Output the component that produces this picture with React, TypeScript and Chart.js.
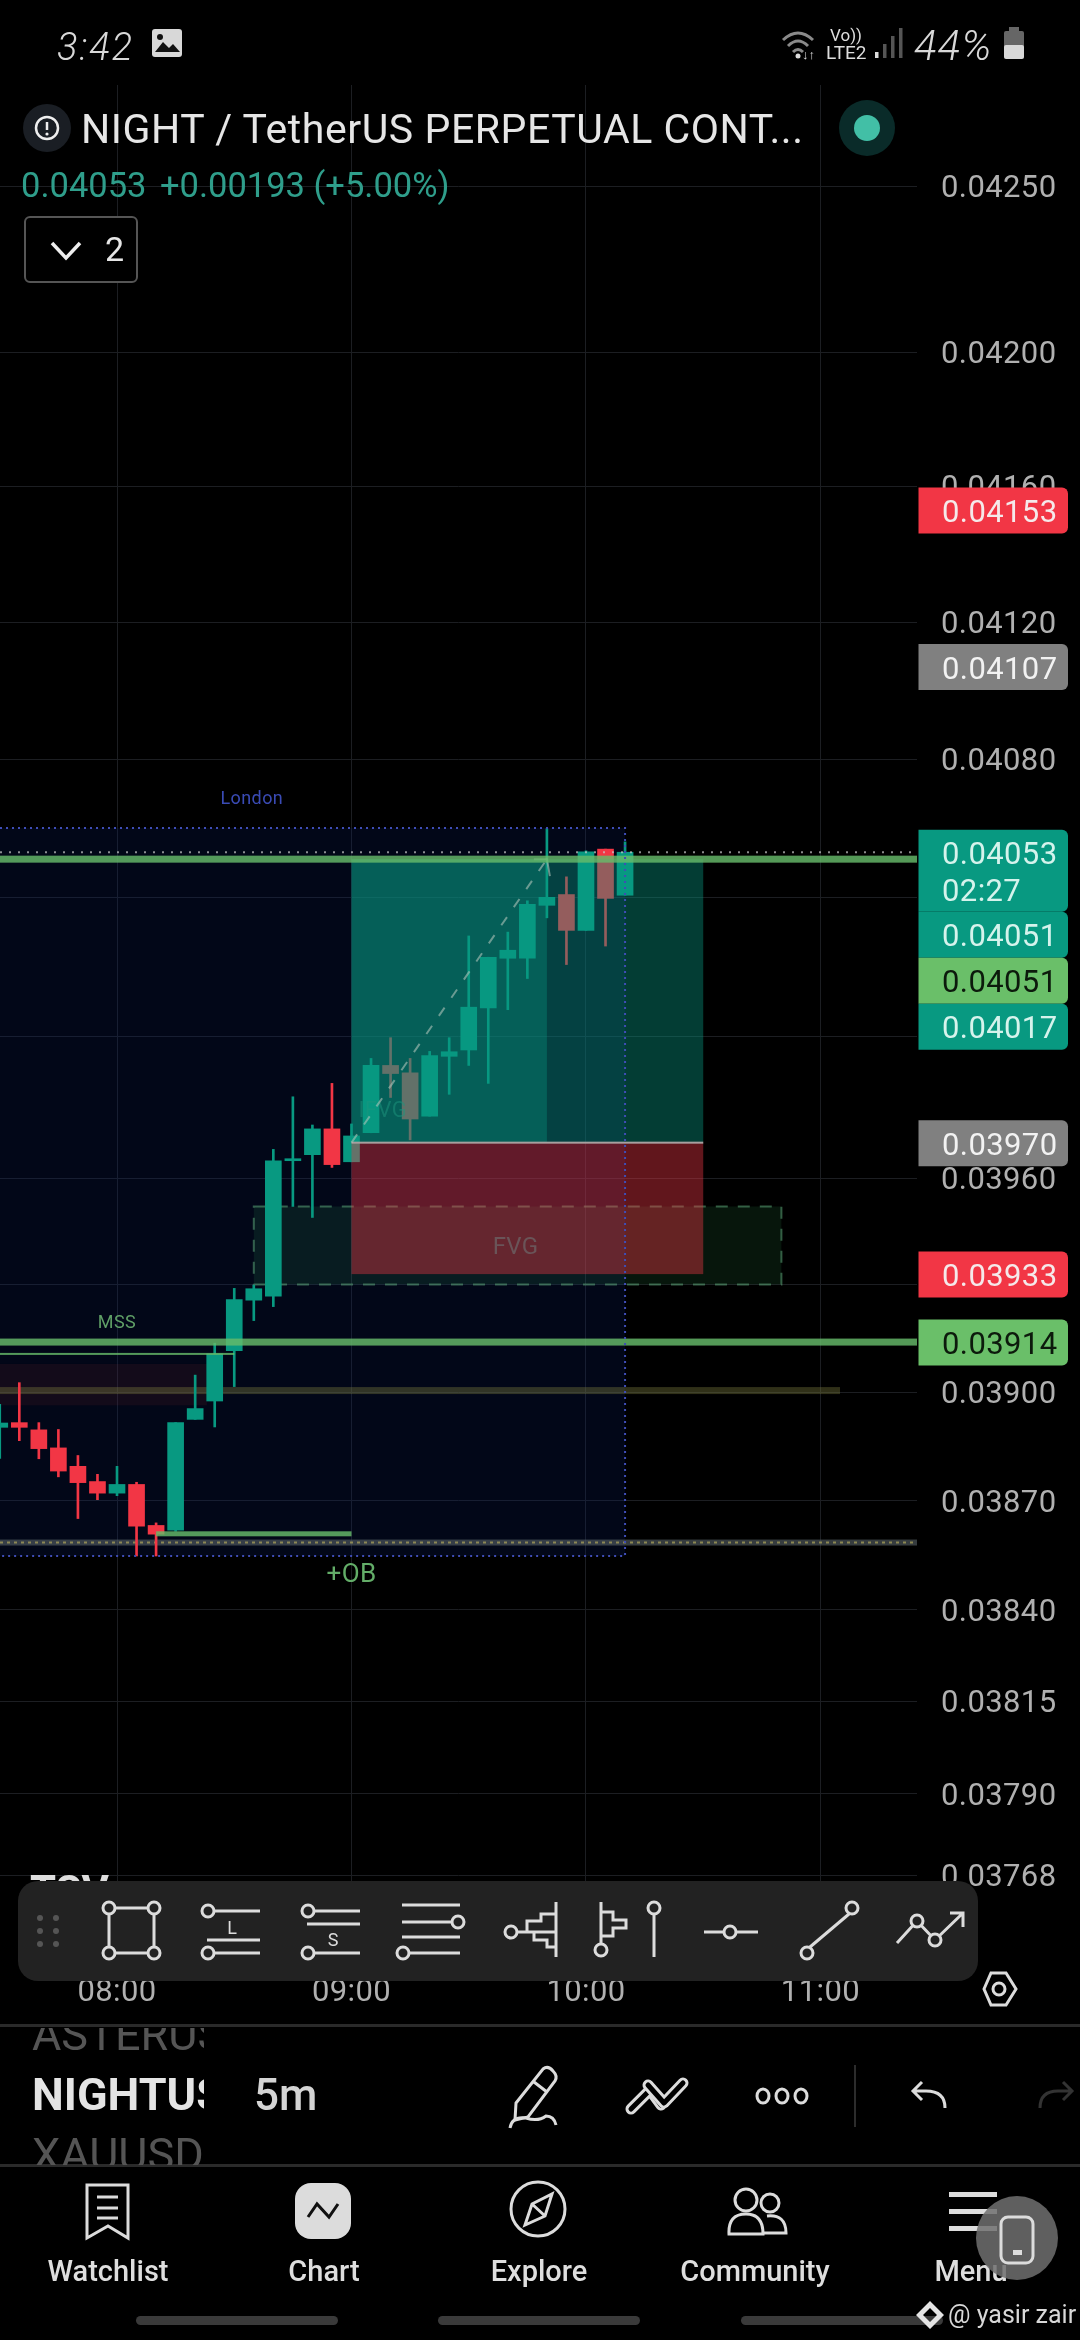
import React, { useEffect, useRef } from "react";
import { Chart, registerables } from "chart.js";

Chart.register(...registerables);

// ---- Candles (minutes since midnight, 5m bars) ----
const times = [450,455,460,465,470,475,480,485,490,495,500,505,510,515,520,525,530,535,540,545,550,555,560,565,570,575,580,585,590,595,600,605,610];
const opens = [0.038903,0.038916,0.038896,0.038846,0.038795,0.038753,0.038721,0.038745,0.038632,0.038619,0.038925,0.038976,0.039116,0.039257,0.039268,0.039649,0.039666,0.039739,0.039646,0.039728,0.039919,0.039898,0.039775,0.039945,0.039963,0.040083,0.040225,0.040225,0.040377,0.040408,0.040305,0.040539,0.040406];
const closes = [0.038915,0.038903,0.038844,0.038782,0.038750,0.038721,0.038745,0.038630,0.038608,0.038916,0.038955,0.039107,0.039259,0.039289,0.039649,0.039652,0.039739,0.039638,0.039719,0.039919,0.039896,0.039767,0.039947,0.039958,0.040085,0.040228,0.040248,0.040380,0.040400,0.040305,0.040531,0.040397,0.040530];
const highs = [0.038967,0.039027,0.038916,0.038897,0.038825,0.038773,0.038795,0.038751,0.038639,0.038916,0.039048,0.039137,0.039290,0.039299,0.039681,0.039830,0.039750,0.039868,0.039753,0.039939,0.039998,0.039939,0.039959,0.039998,0.040289,0.040228,0.040300,0.040390,0.040598,0.040459,0.040534,0.040539,0.040560];
const lows = [0.038817,0.038866,0.038816,0.038766,0.038651,0.038703,0.038714,0.038548,0.038548,0.038616,0.038925,0.038904,0.039016,0.039200,0.039239,0.039520,0.039489,0.039630,0.039646,0.039728,0.039828,0.039708,0.039775,0.039837,0.039919,0.039868,0.040078,0.040167,0.040341,0.040207,0.040305,0.040260,0.040406];

// ---- Axes ----
const yTicks = [0.0425,0.042,0.0416,0.0412,0.0408,0.0404,0.04,0.0396,0.0393,0.039,0.0387,0.0384,0.03815,0.0379,0.03768];
const xTicks = [480,540,600,660];
const xRange = [450.06,684.7];
const yRange = [0.037441,0.042807];

// ---- Drawn objects on the chart ----
const sessionBox = { from: 450, to: 610, top: 0.0406, bottom: 0.038548 };
const entry = 0.0397, target = 0.04051, stop = 0.03933;
const positionTimes = [540, 590, 630];
const fvg = { from: 515, to: 650, top: 0.03952, bottom: 0.039301 };
const redBand = { from: 450, to: 503, top: 0.039079, bottom: 0.038964 };
const oliveLevel = 0.039005, oliveEnd = 665;
const mssLevel = 0.03914, mssThin = 0.039107, mssThinEnd = 510;
const obLevel = 0.038609, obFrom = 490, obTo = 540;
const lowLevel = 0.038585;
const lastPrice = 0.04053;
const annotations: [string, number, number, string, string][] = [
  ["London", 514.5, 0.04069, "#3a4bb5", "18px Roboto"],
  ["MSS", 480, 0.039198, "#5f9f66", "18px Roboto"],
  ["+OB", 540, 0.038502, "#63ad68", "26px Roboto"],
  ["FVG", 582, 0.039411, "#6a5458", "24px Roboto"],
];

// ---- Price tags on the right axis ----
const tagValues = [0.04153,0.04107,0.04053,0.04051,0.04051,0.04017,0.0397,0.03933,0.03914];
const tagColors = ["#f23645","#808080","#089981","#089981","#6abf69","#089981","#808080","#f23645","#6abf69"];
const tagInk = ["#f5e9ea","#f2f2f2","#d5f3ec","#d5f3ec","#0c1a0c","#d5f3ec","#f2f2f2","#f5e9ea","#0c1a0c"];
const tagExtra = ["","","02:27","","","","","",""];

const GREEN = "#089981", RED = "#f23645";
const isUp = times.map((_, i) => closes[i] >= opens[i]);

const overlayPlugin = {
  id: "overlay",
  beforeDraw(chart: any) {
    chart.ctx.letterSpacing = "0.4px";
  },
  beforeDatasetsDraw(chart: any) {
    const { ctx, chartArea: a, scales: { x, y } } = chart;
    ctx.save();
    ctx.beginPath(); ctx.rect(a.left, a.top, a.right - a.left, a.bottom - a.top); ctx.clip();
    const rect = (f: number, t: number, hi: number, lo: number, c: string) => {
      ctx.fillStyle = c;
      ctx.fillRect(x.getPixelForValue(f), y.getPixelForValue(hi), x.getPixelForValue(t) - x.getPixelForValue(f), y.getPixelForValue(lo) - y.getPixelForValue(hi));
    };
    rect(sessionBox.from - 1, sessionBox.to, sessionBox.top, sessionBox.bottom, "rgba(10,30,110,0.22)");
    rect(redBand.from - 1, redBand.to, redBand.top, redBand.bottom, "rgba(140,40,50,0.13)");
    rect(fvg.from, fvg.to, fvg.top, fvg.bottom, "rgba(60,180,100,0.12)");
    ctx.strokeStyle = "rgba(100,180,130,0.5)"; ctx.lineWidth = 2; ctx.setLineDash([12, 10]);
    ctx.strokeRect(x.getPixelForValue(fvg.from), y.getPixelForValue(fvg.top), x.getPixelForValue(fvg.to) - x.getPixelForValue(fvg.from), y.getPixelForValue(fvg.bottom) - y.getPixelForValue(fvg.top));
    ctx.setLineDash([]);
    ctx.fillStyle = "rgba(120,120,60,0.4)";
    const oy = y.getPixelForValue(oliveLevel);
    ctx.fillRect(0, oy - 3.5, x.getPixelForValue(oliveEnd), 7);
    const ly = y.getPixelForValue(lowLevel);
    ctx.fillStyle = "rgba(90,100,105,0.6)"; ctx.fillRect(0, ly - 3, a.right, 6);
    ctx.strokeStyle = "rgba(170,160,90,0.75)"; ctx.lineWidth = 2; ctx.setLineDash([3, 4]);
    ctx.beginPath(); ctx.moveTo(0, ly); ctx.lineTo(a.right, ly); ctx.stroke(); ctx.setLineDash([]);
    ctx.restore();
  },
  afterDatasetsDraw(chart: any) {
    const { ctx, chartArea: a, scales: { x, y } } = chart;
    const X = (v: number) => x.getPixelForValue(v), Y = (v: number) => y.getPixelForValue(v);
    ctx.save();
    ctx.beginPath(); ctx.rect(a.left, a.top, a.right - a.left, a.bottom - a.top); ctx.clip();
    const [p0, p1, p2] = positionTimes;
    ctx.fillStyle = "rgba(8,153,129,0.40)";
    ctx.fillRect(X(p0), Y(target), X(p2) - X(p0), Y(entry) - Y(target));
    ctx.fillStyle = "rgba(8,153,129,0.35)";
    ctx.fillRect(X(p0), Y(target), X(p1) - X(p0), Y(entry) - Y(target));
    ctx.fillStyle = "rgba(242,54,69,0.40)";
    ctx.fillRect(X(p0), Y(entry), X(p2) - X(p0), Y(stop) - Y(entry));
    ctx.fillStyle = "#a89f9f";
    ctx.fillRect(X(p0), Y(entry) - 1, X(p2) - X(p0), 2);

    // faint IFVG tag
    ctx.font = "22px Roboto"; ctx.textAlign = "center"; ctx.textBaseline = "middle";
    ctx.fillStyle = "rgba(30,150,125,0.5)";
    ctx.fillText("IFVG", X(548), Y(0.039789));

    // arrow of the trade
    ctx.strokeStyle = "rgba(175,195,185,0.6)"; ctx.lineWidth = 2; ctx.setLineDash([10, 12]);
    ctx.beginPath(); ctx.moveTo(X(p0), Y(entry)); ctx.lineTo(X(p1), Y(target)); ctx.stroke();
    ctx.setLineDash([]);
    ctx.beginPath(); ctx.moveTo(X(p1) - 13, Y(target)); ctx.lineTo(X(p1), Y(target)); ctx.lineTo(X(p1) + 3, Y(target) + 17); ctx.stroke();

    // heavy levels
    ctx.fillStyle = "rgba(102,187,106,0.82)";
    ctx.fillRect(0, Y(target) - 3.5, a.right, 7);
    ctx.fillRect(0, Y(mssLevel) - 3.5, a.right, 7);
    ctx.fillRect(X(obFrom), Y(obLevel) - 2.5, X(obTo) - X(obFrom), 5);
    ctx.fillRect(0, Y(mssThin) - 1, X(mssThinEnd), 2);

    // last price
    ctx.strokeStyle = "rgba(200,200,200,0.7)"; ctx.lineWidth = 2; ctx.setLineDash([2, 7]);
    ctx.beginPath(); ctx.moveTo(0, Y(lastPrice)); ctx.lineTo(a.right, Y(lastPrice)); ctx.stroke();

    // session border
    ctx.strokeStyle = "#3f4db5"; ctx.setLineDash([2, 4]);
    ctx.beginPath();
    ctx.moveTo(0, Y(sessionBox.top)); ctx.lineTo(X(sessionBox.to), Y(sessionBox.top));
    ctx.lineTo(X(sessionBox.to), Y(sessionBox.bottom)); ctx.lineTo(0, Y(sessionBox.bottom));
    ctx.stroke(); ctx.setLineDash([]);
    ctx.restore();

    ctx.textAlign = "center"; ctx.textBaseline = "middle";
    annotations.forEach(([t, vx, vy, c, f]) => {
      ctx.font = f; ctx.fillStyle = c; ctx.fillText(t, X(vx), Y(vy) + 2.5);
    });
  },
  afterDraw(chart: any) {
    const { ctx, scales: { y } } = chart;
    const left = 918.5, w = 149.5, h = 46;
    let bottom = 0;
    ctx.save();
    ctx.textAlign = "left"; ctx.textBaseline = "middle"; ctx.font = "31px Roboto";
    tagValues.forEach((v, i) => {
      const py = y.getPixelForValue(v);
      const top = Math.max(py - 22.5, bottom);
      const hh = tagExtra[i] ? 82 : h;
      ctx.fillStyle = tagColors[i];
      ctx.beginPath();
      ctx.roundRect(left, top, w, hh, [0, 6, 6, 0]);
      ctx.fill();
      ctx.fillStyle = tagInk[i];
      ctx.fillText(v.toFixed(5), 942, top + 27);
      if (tagExtra[i]) ctx.fillText(tagExtra[i], 942, top + 64);
      bottom = top + hh;
    });
    ctx.restore();
  },
};

const stroke = { stroke: "#dcdcdc", strokeWidth: 3, fill: "none" } as const;
const Handle = ({ x, y, r = 6 }: { x: number; y: number; r?: number }) => <circle cx={x} cy={y} r={r} {...stroke} fill="#222" />;
const L = ({ a, b, c, d, w = 3 }: { a: number; b: number; c: number; d: number; w?: number }) => <line x1={a} y1={b} x2={c} y2={d} stroke="#dcdcdc" strokeWidth={w} />;

function Interface() {
  const sans = "Roboto, sans-serif";
  return (
    <svg width={1080} height={2340} viewBox="0 0 1080 2340" style={{ position: "absolute", left: 0, top: 0 }} fontFamily={sans}>
      <defs>
        <clipPath id="tsv"><rect x="0" y="1860" width="300" height="21" /></clipPath>
        <clipPath id="asset"><rect x="0" y="2028" width="204" height="137" /></clipPath>
        <linearGradient id="fade" x1="0" x2="1" y1="0" y2="0"><stop offset="0.7" stopColor="#e4e4e4" /><stop offset="1" stopColor="#777" /></linearGradient>
      </defs>

      {/* status bar */}
      <text x="57" y="60" fontSize="38" fontStyle="italic" fontWeight="300" fill="#d8d8d8" letterSpacing="2">3:42</text>
      <rect x="152" y="29" width="30" height="28" rx="3" fill="#d8d8d8" />
      <path d="M155 52 L163 42 L169 48 L173 44 L180 52 Z" fill="#111" />
      <circle cx="160" cy="37" r="3" fill="#111" />
      <path d="M783 40 Q798 26 813 40 M788 46 Q798 36 808 46 M793 52 Q798 47 803 52" stroke="#8a8a8a" strokeWidth="3" fill="none" />
      <circle cx="798" cy="56" r="2.5" fill="#ddd" />
      <text x="802" y="59" fontSize="13" fill="#ddd">↓↑</text>
      <text x="830" y="41" fontSize="17" fill="#ddd">Vo))</text>
      <text x="826" y="59" fontSize="19" fill="#ddd">LTE2</text>
      {[0, 1, 2, 3].map((i) => <rect key={i} x={875 + i * 8} y={52 - i * 8} width={3.5} height={6 + i * 8} fill={i === 0 ? "#ddd" : "#555"} />)}
      <text x="914" y="60" fontSize="42" fontStyle="italic" fontWeight="300" fill="#d8d8d8" letterSpacing="1">44%</text>
      <rect x="1004" y="31" width="20" height="27" rx="2" fill="#666" />
      <rect x="1009" y="27" width="10" height="5" fill="#666" />
      <rect x="1004" y="45" width="20" height="14" rx="2" fill="#d8d8d8" />

      {/* header */}
      <circle cx="47" cy="128" r="24" fill="#1a1e24" />
      <circle cx="47" cy="128" r="11" fill="none" stroke="#eee" strokeWidth="2.5" />
      <line x1="47" y1="122" x2="47" y2="130" stroke="#eee" strokeWidth="2.5" />
      <circle cx="47" cy="134" r="1.6" fill="#eee" />
      <text x="81" y="143" fontSize="41" fill="#e6e6e6" textLength="722">NIGHT / TetherUS PERPETUAL CONT...</text>
      <circle cx="867" cy="128" r="28" fill="#0a2b29" />
      <circle cx="867" cy="128" r="13" fill="#42bfa6" />
      <text x="21" y="197" fontSize="34.5" fill="#2f9e8b">0.04053</text>
      <text x="160" y="197" fontSize="34.5" fill="#2f9e8b">+0.00193 (+5.00%)</text>
      <rect x="25" y="217" width="112" height="65" rx="5" fill="#000" stroke="#555" strokeWidth="2" />
      <path d="M52 243 L66 258 L80 243" stroke="#eee" strokeWidth="3.5" fill="none" />
      <text x="105" y="261" fontSize="34" fill="#e6e6e6">2</text>

      {/* drawing toolbar */}
      <text x="30" y="1905" fontSize="42" fontWeight="700" fill="#ddd" clipPath="url(#tsv)">TSV</text>
      <rect x="18" y="1881" width="960" height="100" rx="20" fill="#222222" />
      {[40, 56].flatMap((cx) => [1918, 1931, 1944].map((cy) => <circle key={cx + "-" + cy} cx={cx} cy={cy} r={3} fill="#555" />))}
      <rect x="109" y="1908" width="45" height="45" {...stroke} /><Handle x={109} y={1908} /><Handle x={154} y={1908} /><Handle x={109} y={1953} /><Handle x={154} y={1953} />
      <L a={214} b={1911} c={260} d={1911} /><L a={207} b={1940} c={260} d={1940} /><L a={214} b={1953} c={260} d={1953} /><Handle x={208} y={1911} /><Handle x={208} y={1953} />
      <text x="232" y="1934" fontSize="18" textAnchor="middle" fill="#dcdcdc">L</text>
      <L a={314} b={1911} c={360} d={1911} /><L a={307} b={1924} c={360} d={1924} /><L a={314} b={1953} c={360} d={1953} /><Handle x={308} y={1911} /><Handle x={308} y={1953} />
      <text x="333" y="1946" fontSize="18" textAnchor="middle" fill="#dcdcdc">S</text>
      <L a={402} b={1905} c={460} d={1905} /><L a={402} b={1922} c={452} d={1922} /><L a={402} b={1937} c={460} d={1937} /><L a={410} b={1953} c={460} d={1953} /><Handle x={458} y={1922} /><Handle x={403} y={1953} />
      <L a={556} b={1902} c={556} d={1957} /><L a={516} b={1932} c={556} d={1932} />
      <path d="M556 1914 H541 V1921 H527 V1932 M534 1932 V1940 H547 V1947 H556" {...stroke} /><Handle x={511} y={1932} />
      <L a={601} b={1902} c={601} d={1944} />
      <path d="M601 1912 H613 V1920 H626 V1928 H613 V1936 H601" {...stroke} /><Handle x={601} y={1950} />
      <L a={654} b={1914} c={654} d={1957} /><Handle x={654} y={1908} />
      <L a={704} b={1932} c={758} d={1932} /><Handle x={730} y={1932} />
      <L a={810} b={1947} c={849} d={1914} /><Handle x={807} y={1953} /><Handle x={852} y={1908} />
      <path d="M897 1943 L917 1921 M917 1921 L935 1940 M935 1940 L963 1913 M950 1913 H963 V1927" {...stroke} /><Handle x={917} y={1921} /><Handle x={935} y={1940} />

      {/* settings hexagon */}
      <path d="M984 1989 L991 1973 H1006 L1016 1989 L1006 2005 H991 Z" {...stroke} /><circle cx="999" cy="1989" r="6" {...stroke} />

      {/* symbol strip */}
      <rect x="0" y="2024" width="1080" height="3" fill="#2a2a2a" />
      <rect x="0" y="2164" width="1080" height="3" fill="#2a2a2a" />
      <g clipPath="url(#asset)">
        <text x="32" y="2050" fontSize="45" fill="#555">ASTERUSDT</text>
        <text x="32" y="2110" fontSize="45" fontWeight="700" fill="url(#fade)">NIGHTUSDT</text>
        <text x="32" y="2170" fontSize="45" fill="#555">XAUUSDT</text>
      </g>
      <text x="254" y="2110" fontSize="44" fontWeight="500" fill="#d4d4d4">5m</text>
      <path d="M516 2103 L543 2069 Q548 2065 553 2071 Q558 2076 555 2081 L528 2117 L515 2120 Z M534 2082 L547 2092" {...stroke} />
      <path d="M510 2128 Q512 2116 526 2118 Q538 2122 546 2116 Q554 2116 556 2125" {...stroke} />
      <path d="M631 2109 L650 2090 L661 2105" stroke="#dcdcdc" strokeWidth="11" strokeLinecap="round" strokeLinejoin="round" fill="none" />
      <path d="M631 2109 L650 2090 L661 2105" stroke="#000" strokeWidth="5" strokeLinecap="round" strokeLinejoin="round" fill="none" />
      <path d="M648 2085 L664 2103 L683 2083" stroke="#dcdcdc" strokeWidth="11" strokeLinecap="round" strokeLinejoin="round" fill="none" />
      <path d="M648 2085 L664 2103 L683 2083" stroke="#000" strokeWidth="5" strokeLinecap="round" strokeLinejoin="round" fill="none" />
      {[763, 782, 801].map((cx) => <ellipse key={cx} cx={cx} cy={2096} rx={6} ry={7} {...stroke} />)}
      <line x1="855" y1="2065" x2="855" y2="2127" stroke="#2c2c2c" strokeWidth="2" />
      <path d="M945 2108 Q945 2091 926 2091 H913 M922 2082 L913 2091 L922 2100" {...stroke} />
      <path d="M1040 2108 Q1040 2091 1058 2091 H1072 M1063 2082 L1072 2091 L1063 2100" stroke="#333" strokeWidth="3" fill="none" />

      {/* bottom navigation */}
      <path d="M87 2185 H128 V2238 L108 2226 L87 2238 Z" {...stroke} />
      <L a={97} b={2197} c={118} d={2197} /><L a={97} b={2208} c={118} d={2208} /><L a={97} b={2218} c={118} d={2218} />
      <rect x="295" y="2183" width="56" height="56" rx="16" fill="#dcdcdc" />
      <path d="M308 2217 L317 2204 L329 2217 L338 2204" stroke="#111" strokeWidth="3" fill="none" />
      <circle cx="538" cy="2209" r="27" {...stroke} />
      <path d="M552 2194 L545 2216 L525 2225 L532 2204 Z M532 2204 L545 2216" {...stroke} />
      <circle cx="746" cy="2200" r="11" {...stroke} /><circle cx="770" cy="2203" r="9" {...stroke} />
      <path d="M729 2234 Q728 2214 746 2214 Q763 2214 763 2234 Z M767 2216 Q786 2214 786 2233 H764" {...stroke} />
      <rect x="949" y="2192" width="48" height="5" fill="#dcdcdc" /><rect x="949" y="2209" width="48" height="5" fill="#dcdcdc" /><rect x="949" y="2226" width="48" height="5" fill="#dcdcdc" />
      {[["Watchlist", 108], ["Chart", 324], ["Explore", 539], ["Community", 755], ["Menu", 971]].map(([t, cx]) => (
        <text key={t as string} x={cx as number} y="2281" fontSize="29" fontWeight="500" textAnchor="middle" fill="#dedede">{t as string}</text>
      ))}
      <ellipse cx="1017" cy="2238" rx="41" ry="42" fill="rgba(112,112,112,0.85)" />
      <rect x="1001" y="2217" width="32" height="46" rx="7" {...stroke} />
      <rect x="1013" y="2250" width="9" height="5" fill="#ddd" />

      {/* home pills and credit */}
      <rect x="136" y="2316" width="202" height="9" rx="4.5" fill="#3a3a3a" />
      <rect x="438" y="2316" width="202" height="9" rx="4.5" fill="#3a3a3a" />
      <rect x="741" y="2316" width="202" height="9" rx="4.5" fill="#3a3a3a" />
      <path d="M930 2301 L944 2315 L930 2329 L916 2315 Z M930 2308 L937 2315 L930 2322 L923 2315 Z" fill="#e4e4e4" fillRule="evenodd" />
      <text x="948" y="2323" fontSize="25" fill="#d8d8d8">@ yasir zair</text>
    </svg>
  );
}

export default function App() {
  const ref = useRef<HTMLCanvasElement | null>(null);
  useEffect(() => {
    document.body.style.margin = "0";
    document.body.style.background = "#000";
    const colors = isUp.map((u) => (u ? GREEN : RED));
    const chart = new Chart(ref.current as HTMLCanvasElement, {
      type: "bar",
      plugins: [overlayPlugin as any],
      data: {
        datasets: [
          { label: "bodies", order: 1, barThickness: 16, minBarLength: 2, borderWidth: 0, backgroundColor: colors, grouped: false, data: times.map((t, i) => ({ x: t, y: [opens[i], closes[i]] })) } as any,
          { label: "wicks", order: 2, barThickness: 2, borderWidth: 0, backgroundColor: colors, grouped: false, data: times.map((t, i) => ({ x: t, y: [lows[i], highs[i]] })) } as any,
        ],
      },
      options: {
        animation: false,
        responsive: false,
        devicePixelRatio: 1,
        layout: { padding: { top: 85, left: 0, right: 0, bottom: 0 } },
        plugins: { legend: { display: false }, tooltip: { enabled: false }, title: { display: false } },
        scales: {
          x: {
            type: "linear", offset: false, min: xRange[0], max: xRange[1],
            grid: { offset: false, color: "#1c1e22", lineWidth: 1, drawTicks: false },
            border: { display: false },
            afterBuildTicks: (s: any) => { s.ticks = xTicks.map((value) => ({ value })); },
            afterFit: (s: any) => { s.height = 60; },
            ticks: {
              autoSkip: false, maxRotation: 0, padding: 10, color: "#b0b0b0", font: { family: "Roboto", size: 31 },
              callback: (v: any) => `${String(Math.floor(v / 60)).padStart(2, "0")}:${String(v % 60).padStart(2, "0")}`,
            },
          },
          y: {
            type: "logarithmic", position: "right", min: yRange[0], max: yRange[1], bounds: "data",
            grid: { color: "#1c1e22", lineWidth: 1, drawTicks: false },
            border: { display: false },
            afterBuildTicks: (s: any) => { s.ticks = yTicks.map((value) => ({ value })); },
            afterFit: (s: any) => { s.width = 163; },
            ticks: {
              autoSkip: false, padding: 24, labelOffset: 3, color: "#b0b0b0", font: { family: "Roboto", size: 31 },
              callback: (v: any) => Number(v).toFixed(5),
            },
          },
        },
      } as any,
    });
    return () => chart.destroy();
  }, []);
  return (
    <div style={{ position: "absolute", left: 0, top: 0, width: 1080, height: 2340, background: "#000", overflow: "hidden" }}>
      <canvas ref={ref} width={1080} height={2025} style={{ position: "absolute", left: 0, top: 0, width: 1080, height: 2025 }} />
      <Interface />
    </div>
  );
}
